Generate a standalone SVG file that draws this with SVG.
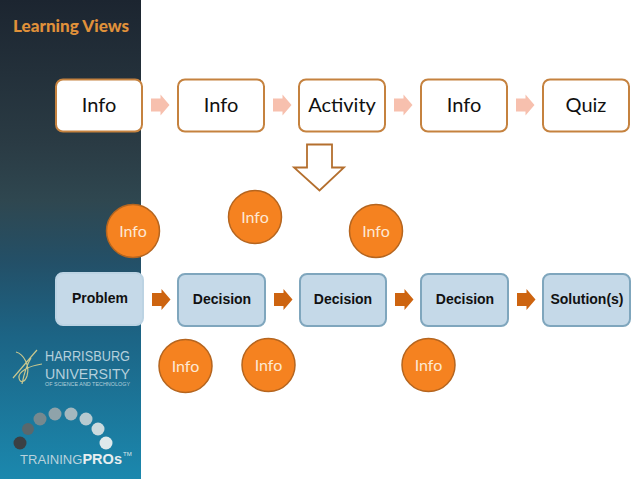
<svg xmlns="http://www.w3.org/2000/svg" width="638" height="479" viewBox="0 0 638 479">
<style>
.top rect{fill:#fff;stroke:#c5823f;stroke-width:2}
.top text{font:20px Lato,"Open Sans",sans-serif;fill:#111;text-anchor:middle}
.low rect{fill:#c5d9e8;stroke:#7fa6bd;stroke-width:2}
.low text{font:bold 14px "Liberation Sans",Arial,sans-serif;fill:#111;text-anchor:middle}
.bub circle{fill:#f58220;stroke:#b5651f;stroke-width:1.500}
.bub text{font:16px Lato,"Open Sans",sans-serif;fill:#fde8d4;text-anchor:middle}
.lg{font-family:"Liberation Sans",Arial,sans-serif;fill:#b5d0dc}
</style>
<defs>
<linearGradient id="side" x1="0" y1="0" x2="0" y2="1">
<stop offset="0" stop-color="#1c2530"/>
<stop offset=".3" stop-color="#2a3b44"/>
<stop offset=".42" stop-color="#2f4750"/>
<stop offset=".55" stop-color="#235068"/>
<stop offset=".7" stop-color="#1c6485"/>
<stop offset="1" stop-color="#1b88ae"/>
</linearGradient>
<path id="a" d="M0-6.500H9.500V-10.500L18.500 0L9.500 10.500V6.500H0Z"/>
</defs>
<rect width="638" height="479" fill="#fff"/>
<g id="sidebar">
<rect width="141" height="479" fill="url(#side)"/>
<text x="13" y="31.500" font-family="Lato,'Open Sans',sans-serif" font-size="16.500" font-weight="900" fill="#e0913a" textLength="116" lengthAdjust="spacingAndGlyphs">Learning Views</text>
<g id="logo-hu" fill="none" stroke="#c9c78e" stroke-width="1.200">
<path d="M13 378C20 370 30 358 37 350M16 352C24 354 30 366 27 376C25 382 20 384 19 378C18 372 28 366 42 364M22 384C24 374 26 366 31 358"/>
</g>
<text class="lg" x="45" y="361" font-size="15" textLength="85" lengthAdjust="spacingAndGlyphs">HARRISBURG</text>
<text class="lg" x="45" y="378.500" font-size="15" textLength="85" lengthAdjust="spacingAndGlyphs">UNIVERSITY</text>
<text class="lg" x="45" y="386" font-size="4.500" textLength="85" lengthAdjust="spacingAndGlyphs">OF SCIENCE AND TECHNOLOGY</text>
<g id="logo-tp">
<circle cx="20" cy="443" r="6.500" fill="#3b4044"/>
<circle cx="28" cy="429" r="6" fill="#59686d"/>
<circle cx="40" cy="419" r="6.500" fill="#76898f"/>
<circle cx="55" cy="414" r="6.500" fill="#8fa3aa"/>
<circle cx="71" cy="414" r="6.500" fill="#a4b8bf"/>
<circle cx="86" cy="419" r="6.500" fill="#b7cad0"/>
<circle cx="98" cy="429" r="6.500" fill="#cbdade"/>
<circle cx="106" cy="443" r="6.500" fill="#dfe9eb"/>
<text x="20" y="464" font-family="'Liberation Sans',Arial,sans-serif" font-size="13.500" fill="#b9d2dc" textLength="102" lengthAdjust="spacingAndGlyphs">TRAINING<tspan font-size="15" font-weight="700" fill="#e8eef0">PROs</tspan></text>
<text x="123" y="456" font-family="'Liberation Sans',Arial,sans-serif" font-size="6" fill="#dfe9eb">TM</text>
</g>
</g>
<g id="connectors">
<g fill="#f7c0ae">
<use href="#a" x="151" y="105"/>
<use href="#a" x="273" y="105"/>
<use href="#a" x="394" y="105"/>
<use href="#a" x="516" y="105"/>
</g>
<g fill="#cd6410">
<use href="#a" x="152" y="299.500"/>
<use href="#a" x="274" y="299.500"/>
<use href="#a" x="395" y="299.500"/>
<use href="#a" x="517" y="299.500"/>
</g>
<path id="down" d="M307 144.500H332V167.500H344L319.500 190.500L294 167.500H307Z" fill="#fff" stroke="#b46f2e" stroke-width="1.800"/>
</g>
<g class="top">
<g id="t1"><rect x="56" y="79.500" width="86" height="52" rx="7"/><text x="99" y="112">Info</text></g>
<g id="t2"><rect x="178" y="79.500" width="86" height="52" rx="7"/><text x="221" y="112">Info</text></g>
<g id="t3"><rect x="299" y="79.500" width="86" height="52" rx="7"/><text x="342" y="112">Activity</text></g>
<g id="t4"><rect x="421" y="79.500" width="86" height="52" rx="7"/><text x="464" y="112">Info</text></g>
<g id="t5"><rect x="543" y="79.500" width="86" height="52" rx="7"/><text x="586" y="112">Quiz</text></g>
</g>
<g class="low">
<g id="l1"><rect x="56" y="273" width="87" height="52" rx="7" style="stroke:#bcd3e3"/><text x="100" y="303">Problem</text></g>
<g id="l2"><rect x="178" y="274" width="87" height="52" rx="7"/><text x="222" y="304">Decision</text></g>
<g id="l3"><rect x="300" y="274" width="86" height="52" rx="7"/><text x="343" y="304">Decision</text></g>
<g id="l4"><rect x="421" y="274" width="87" height="52" rx="7"/><text x="465" y="304">Decision</text></g>
<g id="l5"><rect x="543" y="274" width="87" height="52" rx="7"/><text x="587" y="304">Solution(s)</text></g>
</g>
<g class="bub">
<g id="b1"><circle cx="133" cy="231" r="26.500"/><text x="133" y="236.500">Info</text></g>
<g id="b2"><circle cx="255" cy="217" r="26.500"/><text x="255" y="223">Info</text></g>
<g id="b3"><circle cx="376" cy="231" r="26.500"/><text x="376" y="236.500">Info</text></g>
<g id="b4"><circle cx="185.500" cy="366" r="26.500"/><text x="185.500" y="372">Info</text></g>
<g id="b5"><circle cx="268.500" cy="365" r="26.500"/><text x="268.500" y="371">Info</text></g>
<g id="b6"><circle cx="428.500" cy="365" r="26.500"/><text x="428.500" y="371">Info</text></g>
</g>
</svg>
